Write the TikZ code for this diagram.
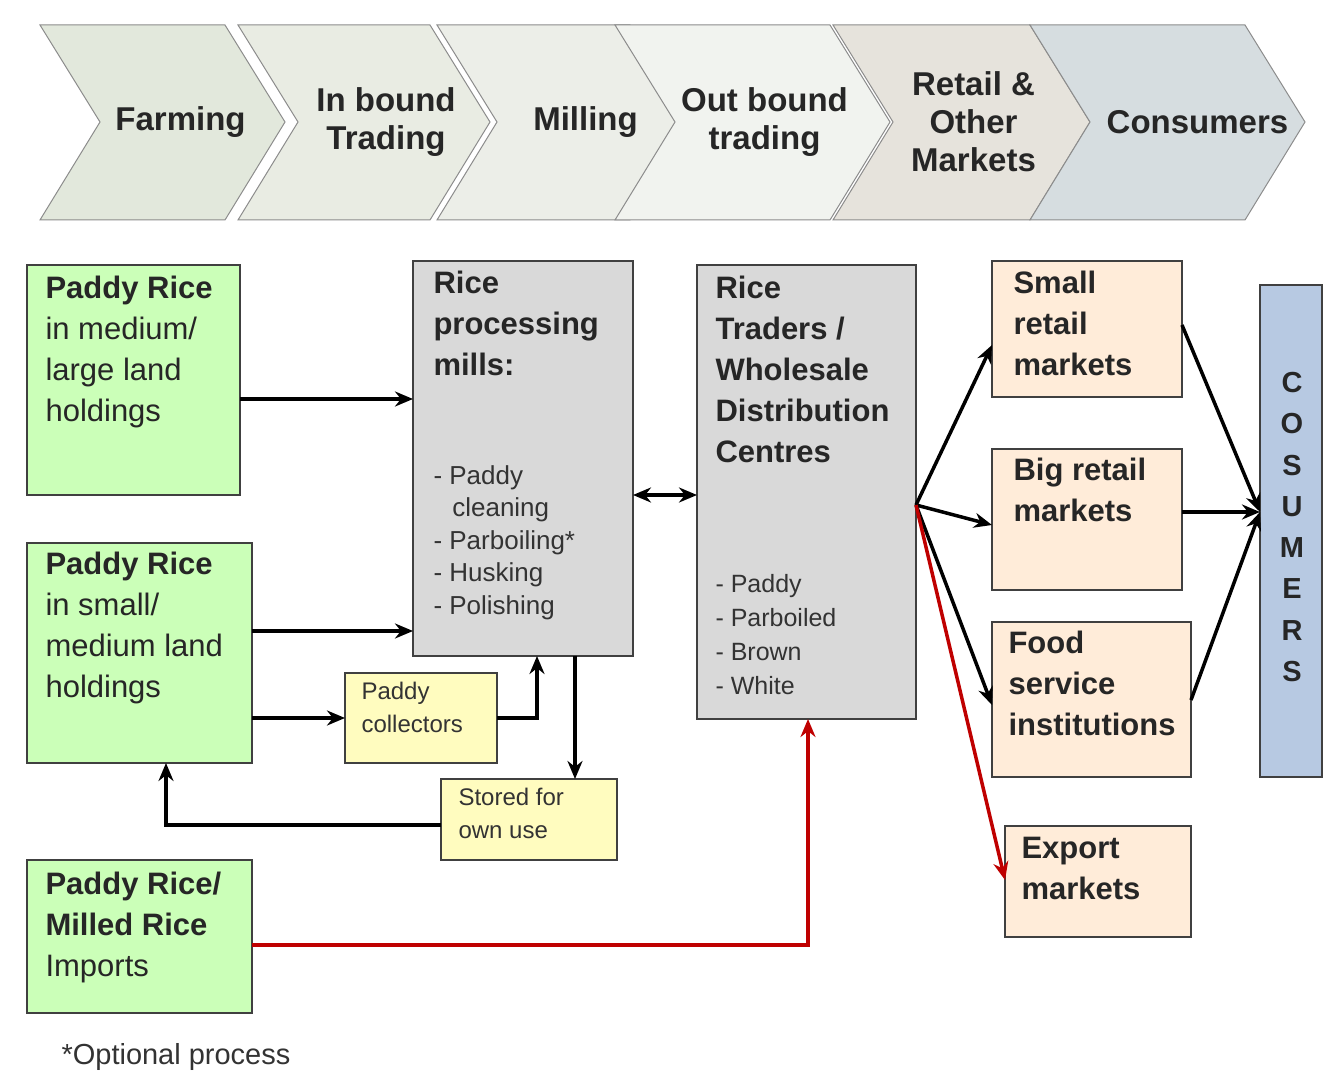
\documentclass[tikz,border=0pt]{standalone}
\usepackage{fontspec}
\setmainfont{Liberation Sans}
\usetikzlibrary{arrows.meta}
\begin{document}
\begin{tikzpicture}[x=1pt,y=-1pt,
 box/.style={draw=black!75,line width=1.5pt},
 grn/.style={box,fill=green!20!white!90!lime},
 gry/.style={box,fill=black!15},
 ylw/.style={box,fill=yellow!25},
 pch/.style={box,fill=orange!15},
 chev/.style={draw=black!45,line width=1pt},
 ct/.style={font=\fontsize{33}{38}\selectfont\bfseries,align=center,text=black!85},
 tt/.style={anchor=north west,align=left,font=\fontsize{31}{41}\selectfont,text=black!85},
 st/.style={anchor=north west,align=left,font=\fontsize{24}{33}\selectfont,text=black!80},
 ar/.style={line width=3.5pt,-{Stealth[length=18pt,width=15pt]}},
 rar/.style={ar,draw=red!75!black}]
\useasboundingbox (0,0) rectangle (1334,1075);
\foreach \a/\b/\c/\t/\n/\o in {40/285/e2e8dc/Farming/c1/18,238/490/e9ece3/{In bound\\Trading}/c2/22,437/690/eceee8/Milling/c3/22,615/890/f1f3ef/{Out bound\\trading}/c4/12,833/1090/e6e3dc/{Retail \&\\Other\\Markets}/c5/12,1030/1305/d6dde0/Consumers/c6/30}{
 \definecolor{cc}{HTML}{\c}
 \draw[chev,fill=cc] (\a,25) -- (\b-60,25) -- (\b,122) -- (\b-60,220) -- (\a,220) -- (\a+60,122) -- cycle;
 \node[ct] (\n) at ({(\a+\b)/2+\o},122) {\t};
}
\draw[grn] (27,265) rectangle (240,495); \node[tt] (p1) at (42,273) {\textbf{Paddy Rice}\\in medium/\\large land\\holdings};
\draw[grn] (27,543) rectangle (252,763); \node[tt] (p2) at (42,549) {\textbf{Paddy Rice}\\in small/\\medium land\\holdings};
\draw[grn] (27,860) rectangle (252,1013); \node[tt] (p3) at (42,868) {\textbf{Paddy Rice/}\\\textbf{Milled Rice}\\Imports};
\draw[gry] (413,261) rectangle (633,656); \node[tt] (m) at (430,268) {\textbf{Rice}\\\textbf{processing}\\\textbf{mills:}};
\node[st,font=\fontsize{26}{32.5}\selectfont] (ml) at (430,462) {- Paddy\\\ \ \,cleaning\\- Parboiling*\\- Husking\\- Polishing};
\draw[gry] (697,265) rectangle (916,719); \node[tt] (t) at (712,273) {\textbf{Rice}\\\textbf{Traders /}\\\textbf{Wholesale}\\\textbf{Distribution}\\\textbf{Centres}};
\node[st,font=\fontsize{25}{34}\selectfont] (tl) at (712,571) {- Paddy\\- Parboiled\\- Brown\\- White};
\draw[ylw] (345,673) rectangle (497,763); \node[st] (pc) at (358,679) {Paddy\\collectors};
\draw[ylw] (441,779) rectangle (617,860); \node[st] (so) at (455,785) {Stored for\\own use};
\draw[pch] (992,261) rectangle (1182,397); \node[tt] (s) at (1010,268) {\textbf{Small}\\\textbf{retail}\\\textbf{markets}};
\draw[pch] (992,449) rectangle (1182,590); \node[tt] (b) at (1010,455) {\textbf{Big retail}\\\textbf{markets}};
\draw[pch] (992,622) rectangle (1191,777); \node[tt] (f) at (1005,628) {\textbf{Food}\\\textbf{service}\\\textbf{institutions}};
\draw[pch] (1005,826) rectangle (1191,937); \node[tt] (e) at (1018,834) {\textbf{Export}\\\textbf{markets}};
\draw[box,fill={rgb,255:red,183;green,201;blue,226}] (1260,285) rectangle (1322,777);
\node[font=\fontsize{29}{41.3}\selectfont\bfseries,align=center,text=black!85] (cons) at (1292,527) {C\\O\\S\\U\\M\\E\\R\\S};
\coordinate (a1) at (240,399); \coordinate (a2) at (413,399);
\draw[ar] (a1) -- (a2);
\coordinate (b1) at (252,631); \coordinate (b2) at (413,631);
\draw[ar] (b1) -- (b2);
\coordinate (c1) at (252,718); \coordinate (c2) at (345,718);
\draw[ar] (c1) -- (c2);
\coordinate (d1) at (497,718); \coordinate (d2) at (537,656);
\draw[ar] (d1) -| (d2);
\coordinate (e1) at (575,656); \coordinate (e2) at (575,779);
\draw[ar] (e1) -- (e2);
\coordinate (f1) at (441,825); \coordinate (f2) at (166,763);
\draw[ar] (f1) -| (f2);
\coordinate (g1) at (633,495); \coordinate (g2) at (697,495);
\draw[ar,{Stealth[length=18pt,width=15pt]}-{Stealth[length=18pt,width=15pt]}] (g1) -- (g2);
\coordinate (h) at (916,505);
\coordinate (hs) at (992,345); \coordinate (hb) at (992,525); \coordinate (hf) at (992,705); \coordinate (he) at (1005,880);
\draw[ar] (h) -- (hs); \draw[ar] (h) -- (hb); \draw[ar] (h) -- (hf);
\draw[rar] (h) -- (he);
\coordinate (i1) at (252,945); \coordinate (i2) at (808,719);
\draw[rar] (i1) -| (i2);
\coordinate (k) at (1260,512);
\draw[ar] (1182,325) -- (k); \draw[ar] (1182,512) -- (k); \draw[ar] (1191,700) -- (k);
\node[anchor=west,font=\fontsize{29}{32}\selectfont,text=black!80] (fn) at (58,1057) {*Optional process};
\end{tikzpicture}
\end{document}
